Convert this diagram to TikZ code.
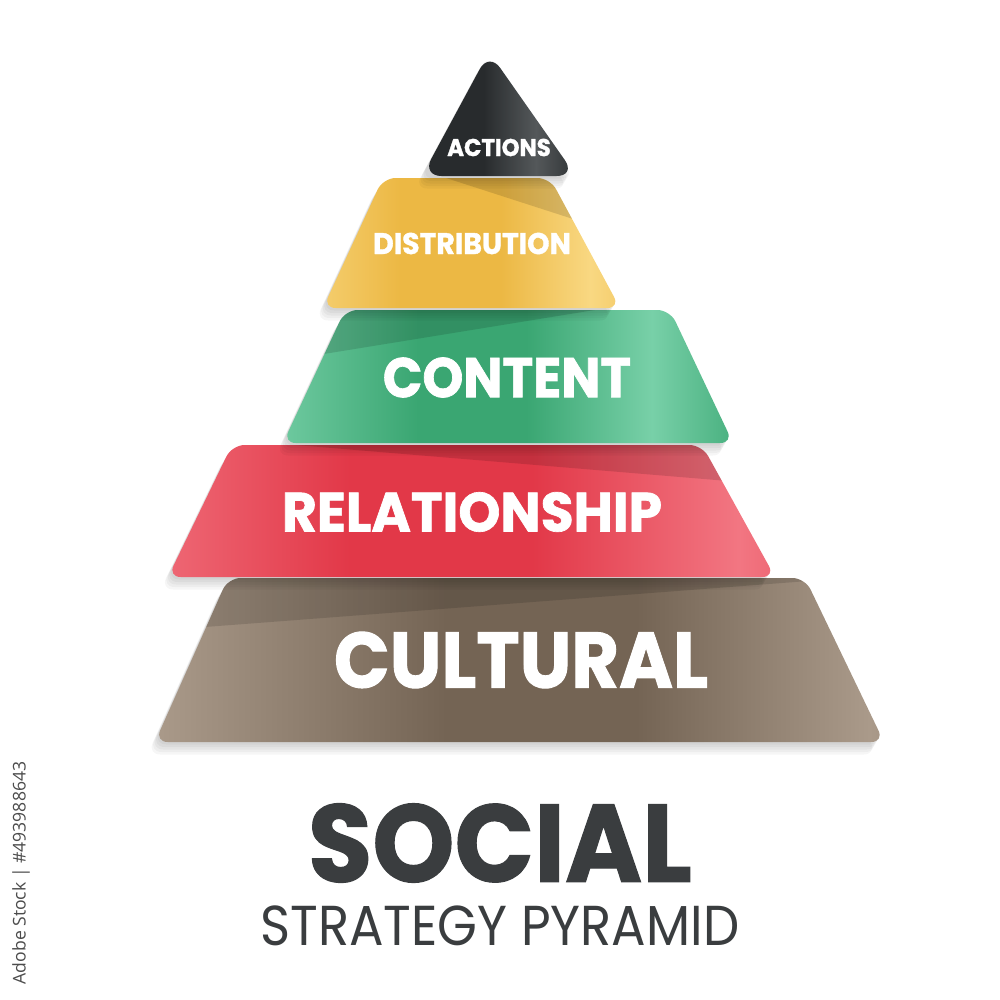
\documentclass[tikz,border=0pt]{standalone}
\usepackage{fontspec}
\setmainfont{Poppins}
\newfontfamily\stockfont{Open Sans}
\usepackage{tikz}
\usetikzlibrary{positioning, calc}
\definecolor{PyrSchwarz}{RGB}{40,43,45}
\definecolor{PyrSchwarzHell}{RGB}{84,88,90}
\definecolor{PyrGelb}{RGB}{236,184,68}
\definecolor{PyrGelbHell}{RGB}{249,216,130}
\definecolor{PyrGruen}{RGB}{58,166,114}
\definecolor{PyrGruenHell}{RGB}{120,208,168}
\definecolor{PyrRot}{RGB}{226,56,72}
\definecolor{PyrRotHell}{RGB}{242,118,130}
\definecolor{PyrBraun}{RGB}{116,100,84}
\definecolor{PyrBraunHell}{RGB}{170,154,138}
\definecolor{PyrTitel}{RGB}{58,61,63}

\pgfdeclarehorizontalshading{schwarzmetal}{100bp}{color(0bp)=(PyrSchwarz); color(45bp)=(PyrSchwarz); color(62bp)=(PyrSchwarzHell); color(78bp)=(PyrSchwarz); color(100bp)=(PyrSchwarz)}
\pgfdeclarehorizontalshading{gelbmetal}{100bp}{color(0bp)=(PyrGelb); color(18bp)=(PyrGelbHell); color(38bp)=(PyrGelb); color(55bp)=(PyrGelb); color(70bp)=(PyrGelbHell); color(85bp)=(PyrGelb); color(100bp)=(PyrGelb)}
\pgfdeclarehorizontalshading{gruenmetal}{100bp}{color(0bp)=(PyrGruen); color(22bp)=(PyrGruenHell); color(40bp)=(PyrGruen); color(52bp)=(PyrGruen); color(66bp)=(PyrGruenHell); color(78bp)=(PyrGruen); color(88bp)=(PyrGruenHell); color(100bp)=(PyrGruen)}
\pgfdeclarehorizontalshading{rotmetal}{100bp}{color(0bp)=(PyrRot); color(20bp)=(PyrRotHell); color(40bp)=(PyrRot); color(55bp)=(PyrRot); color(72bp)=(PyrRotHell); color(86bp)=(PyrRot); color(100bp)=(PyrRot)}
\pgfdeclarehorizontalshading{braunmetal}{100bp}{color(0bp)=(PyrBraun); color(25bp)=(PyrBraunHell); color(45bp)=(PyrBraun); color(58bp)=(PyrBraun); color(74bp)=(PyrBraunHell); color(90bp)=(PyrBraun); color(100bp)=(PyrBraun)}

\tikzset{
  schwarzform/.style={insert path={(422,176) -- (489,52) -- (576,176) -- cycle}},
  gelbform/.style={insert path={(383,178) -- (550,178) -- (620,308) -- (323,308) -- cycle}},
  gruenform/.style={insert path={(345,310) -- (670,310) -- (733,443) -- (283,443) -- cycle}},
  rotform/.style={insert path={(232,445) -- (702,445) -- (775,577) -- (168,577) -- cycle}},
  braunform/.style={insert path={(228,578) -- (805,578) -- (884,742) -- (155,742) -- cycle}},
  ecken/.style={rounded corners=3.6pt},
  schatten/.style={black, opacity=0.035, ecken},
  band/.style={black, opacity=0.13},
  lagetext/.style 2 args={text=white, inner sep=0pt,
    font=\bfseries\fontsize{#1}{#1}\selectfont\addfontfeatures{FakeBold=1.2, FakeStretch=#2}},
}

\begin{document}
\begin{tikzpicture}[x=0.01cm, y=-0.01cm]
    \useasboundingbox[fill=white] (0,0) rectangle (1000,1000);

    % cultural
    \foreach \s in {1,...,5}
        \fill[schatten, shift={(-1.5*\s,2.5*\s)}, braunform];
    \shade[shading=braunmetal, ecken, braunform];
    \begin{scope}
        \clip[ecken, braunform];
        \fill[band] (100,635) -- (900,574) -- (900,560) -- (100,560) -- cycle;
    \end{scope}
    \node[lagetext={22.4}{0.93}] (cultural) at (521,660) {CULTURAL};

    % relationship
    \foreach \s in {1,...,5}
        \fill[schatten, shift={(-1.5*\s,2.5*\s)}, rotform];
    \shade[shading=rotmetal, ecken, rotform];
    \begin{scope}
        \clip[ecken, rotform];
        \fill[band] (284,444) -- (284,430) -- (800,430) -- (800,487) -- cycle;
    \end{scope}
    \node[lagetext={15.7}{0.97}] (relationship) at (472,512) {RELATIONSHIP};

    % content
    \foreach \s in {1,...,5}
        \fill[schatten, shift={(-1.5*\s,2.5*\s)}, gruenform];
    \shade[shading=gruenmetal, ecken, gruenform];
    \begin{scope}
        \clip[ecken, gruenform];
        \fill[band] (250,366) -- (650,301) -- (650,290) -- (250,290) -- cycle;
    \end{scope}
    \node[lagetext={15.9}{0.93}] (content) at (507,377.5) {CONTENT};

    % distribution
    \foreach \s in {1,...,5}
        \fill[schatten, shift={(-1.5*\s,2.5*\s)}, gelbform];
    \shade[shading=gelbmetal, ecken, gelbform];
    \begin{scope}
        \clip[ecken, gelbform];
        \fill[band] (443,177) -- (443,160) -- (700,160) -- (700,260) -- cycle;
    \end{scope}
    \node[lagetext={8.5}{0.95}] (distribution) at (472,243.5) {DISTRIBUTION};

    % actions
    \foreach \s in {1,...,5}
        \fill[schatten, shift={(-1.5*\s,2.5*\s)}, schwarzform];
    \shade[shading=schwarzmetal, rounded corners=5.5pt, schwarzform];
    \node[lagetext={6.9}{0.94}] (actions) at (499,147.5) {ACTIONS};

    % title
    \node[inner sep=0pt, text=PyrTitel, font=\bfseries\fontsize{31.3}{32}\selectfont\addfontfeatures{FakeBold=1, FakeStretch=0.95}] (social) at (500,843) {SOCIAL};
    \node[inner sep=0pt, text=PyrTitel, font=\fontsize{16}{17}\selectfont\addfontfeatures{FakeStretch=0.91}, below=0.22cm of social] (strategy) {STRATEGY PYRAMID};

    \node[rotate=90, inner sep=0pt, text=black!70, font=\stockfont\fontsize{5}{6}\selectfont] (stock) at (21,873) {Adobe Stock | \#493988643};
\end{tikzpicture}
\end{document}
